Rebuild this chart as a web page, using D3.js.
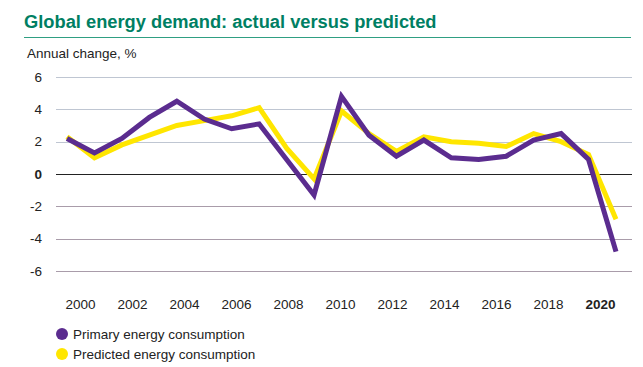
<!DOCTYPE html>
<html>
<head>
<meta charset="utf-8">
<script src="https://cdn.jsdelivr.net/npm/d3@7"></script>
<style>
  body { margin: 0; background: #fff; }
  svg { display: block; font-family: "Liberation Sans", Arial, sans-serif; }
</style>
</head>
<body>
<div id="chart"></div>
<script>
// data
var years = d3.range(2000, 2021);
var primary = [2.2, 1.3, 2.2, 3.5, 4.5, 3.4, 2.8, 3.1, 0.9, -1.3, 4.8, 2.4, 1.1, 2.1, 1.0, 0.9, 1.1, 2.1, 2.5, 0.9, -4.8];
var predicted = [2.3, 1.0, 1.8, 2.4, 3.0, 3.3, 3.6, 4.1, 1.6, -0.3, 3.9, 2.5, 1.4, 2.3, 2.0, 1.9, 1.7, 2.5, 2.0, 1.2, -2.8];
var yTicks = [6, 4, 2, 0, -2, -4, -6];
var xLabels = ["2000", "2002", "2004", "2006", "2008", "2010", "2012", "2014", "2016", "2018", "2020"];

var width = 643, height = 367;

var svg = d3.select("#chart")
    .append("svg")
    .attr("width", width)
    .attr("height", height);

// title
svg.append("text")
    .attr("x", 24)
    .attr("y", 28)
    .attr("font-size", "18.3px")
    .attr("font-weight", "bold")
    .attr("fill", "#007f63")
    .text("Global energy demand: actual versus predicted");

svg.append("line")
    .attr("x1", 24).attr("x2", 631)
    .attr("y1", 37.5).attr("y2", 37.5)
    .attr("stroke", "#2f9f82")
    .attr("stroke-width", 1.2);

svg.append("text")
    .attr("x", 27)
    .attr("y", 58)
    .attr("font-size", "13.5px")
    .attr("fill", "#222")
    .text("Annual change, %");

// scales
var x = d3.scaleLinear().domain([2000, 2020]).range([67, 616]);
var xLab = d3.scalePoint().domain(xLabels).range([80, 600]);
var y = d3.scaleLinear().domain([-6, 6]).range([271, 77]);

// gridlines
svg.append("g").selectAll("line")
    .data(yTicks)
    .enter().append("line")
    .attr("x1", 56).attr("x2", 632)
    .attr("y1", function (d) { return Math.round(y(d)) + 0.5; })
    .attr("y2", function (d) { return Math.round(y(d)) + 0.5; })
    .attr("stroke", function (d) { return d == 0 ? "#222" : (d > 0 ? "#bfc6d2" : "#a99caa"); })
    .attr("stroke-width", function (d) { return d == 0 ? 1.2 : 1; });

// y labels
svg.append("g").selectAll("text")
    .data(yTicks)
    .enter().append("text")
    .attr("x", 42)
    .attr("y", function (d) { return y(d); })
    .attr("dy", "0.35em")
    .attr("text-anchor", "end")
    .attr("font-size", "13.5px")
    .attr("font-weight", function (d) { return d == 0 ? "bold" : "normal"; })
    .attr("fill", "#222")
    .text(function (d) { return d; });

// x labels
var xAxis = svg.append("g")
    .attr("transform", "translate(0,309)")
    .call(d3.axisBottom(xLab).tickSize(0).tickPadding(0));
xAxis.select(".domain").remove();
xAxis.selectAll("text")
    .attr("dy", 0)
    .attr("font-family", "Liberation Sans, Arial, sans-serif")
    .attr("font-size", "13.5px")
    .attr("fill", "#222")
    .attr("font-weight", function (d) { return d == "2020" ? "bold" : "normal"; });

// lines
var series = [
    { name: "Predicted energy consumption", values: predicted, color: "#ffe600" },
    { name: "Primary energy consumption", values: primary, color: "#5b2c8f" }
];

var line = d3.line()
    .x(function (d, i) { return x(years[i]); })
    .y(function (d) { return y(d); });

series.forEach(function (s) {
    svg.append("path")
        .datum(s.values)
        .attr("fill", "none")
        .attr("stroke", s.color)
        .attr("stroke-width", 5)
        .attr("stroke-linejoin", "miter")
        .attr("d", line);
});

// legend
var legendItems = [series[1], series[0]];
var legend = svg.selectAll(".legend")
    .data(legendItems)
    .enter().append("g")
    .attr("class", "legend")
    .attr("transform", function (d, i) { return "translate(62," + (334 + i * 20) + ")"; });

legend.append("circle")
    .attr("r", 6)
    .attr("fill", function (d) { return d.color; });

legend.append("text")
    .attr("x", 11)
    .attr("dy", "0.35em")
    .attr("font-size", "13.5px")
    .attr("fill", "#222")
    .text(function (d) { return d.name; });
</script>
</body>
</html>
